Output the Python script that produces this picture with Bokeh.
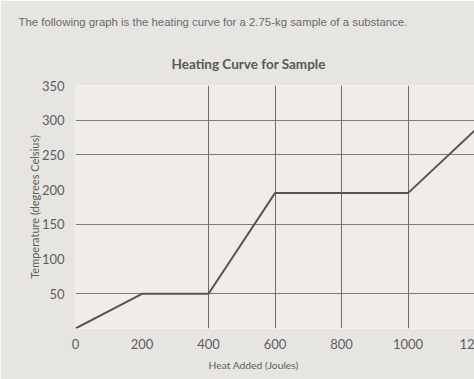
from bokeh.plotting import figure
from bokeh.models import FixedTicker, Grid, Range1d, Title
from bokeh.embed import file_html
from bokeh.resources import INLINE

# data
heat_added = [0, 200, 400, 600, 1000, 1200]
temperature = [0, 50, 50, 195, 195, 285]
x_ticks = [0, 200, 400, 600, 800, 1000, 1200]
x_tick_text = {1200: "12"}  # cut off at the right edge in the reference
y_ticks = [50, 100, 150, 200, 250, 300, 350]
h_grid = [0, 50, 150, 250, 300]
v_grid = [400, 600, 800, 1000]

title_text = "Heating Curve for Sample"
header_text = "The following graph is the heating curve for a 2.75-kg sample of a substance."
x_label = "Heat Added (Joules)"
y_label = "Temperature (degrees Celsius)"

W, H = 474, 379
FL, FT, FB = 75, 85, 328
FONT = "Lato"
TXT = "#5e5e5e"

p = figure(width=W, height=H, output_backend="svg", toolbar_location=None,
           x_range=Range1d(0, 1200), y_range=Range1d(0, 350),
           min_border_left=FL, min_border_right=0, min_border_top=FT,
           min_border_bottom=H - FB)
p.background_fill_color = "#f0ede9"
p.border_fill_color = "#e7e5e2"
p.outline_line_color = None

p.xgrid.visible = False
p.ygrid.visible = False
p.add_layout(Grid(dimension=1, ticker=FixedTicker(ticks=h_grid),
                  grid_line_color="#7a7a7a", grid_line_width=1))
p.add_layout(Grid(dimension=0, ticker=FixedTicker(ticks=v_grid),
                  grid_line_color="#6e6e6e", grid_line_width=1))

for ax in (p.xaxis[0], p.yaxis[0]):
    ax.axis_line_color = None
    ax.major_tick_line_color = None
    ax.minor_tick_line_color = None
    ax.major_label_text_font = FONT
    ax.major_label_text_font_size = "13px"
    ax.major_label_text_color = TXT

p.xaxis.ticker = FixedTicker(ticks=x_ticks)
p.xaxis.major_label_overrides = x_tick_text
p.yaxis.ticker = FixedTicker(ticks=y_ticks)
p.xaxis.major_label_standoff = 4
p.yaxis.major_label_standoff = 5
p.yaxis.axis_label = y_label
p.yaxis.axis_label_standoff = -2
p.yaxis.axis_label_text_font = FONT
p.yaxis.axis_label_text_font_style = "normal"
p.yaxis.axis_label_text_font_size = "11px"
p.yaxis.axis_label_text_color = TXT

p.line(heat_added, temperature, line_color="#555555", line_width=2)

# x-axis label as a title below the axis
p.add_layout(Title(text=x_label, align="left", offset=133, standoff=10,
                   text_font=FONT, text_font_style="normal",
                   text_font_size="10.3px", text_color=TXT), "below")

# chart title and page header above the plot
p.add_layout(Title(text=title_text, align="left", offset=96, standoff=27,
                   text_font=FONT, text_font_style="bold",
                   text_font_size="13.5px", text_color="#585858"), "above")
p.add_layout(Title(text=header_text, align="left", offset=-57, standoff=25,
                   text_font="Liberation Sans", text_font_style="normal",
                   text_font_size="11.4px", text_color="#6a6a6a"), "above")

open("out.html", "w").write(file_html(p, INLINE))
